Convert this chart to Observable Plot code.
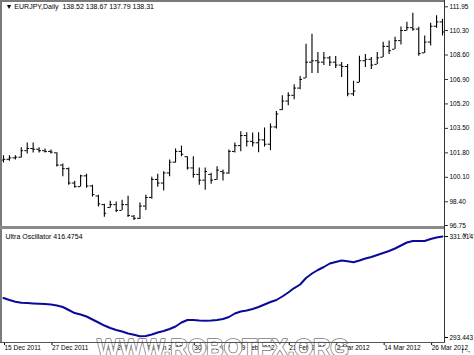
<!DOCTYPE html>
<html><head><meta charset="utf-8">
<script src="https://cdn.jsdelivr.net/npm/d3@7"></script>
<script src="https://cdn.jsdelivr.net/npm/@observablehq/plot@0.6"></script>
<style>
body{margin:0;background:#fff;}
#c{position:relative;width:474px;height:355px;overflow:hidden;font-family:"Liberation Sans",Arial,sans-serif;}
#c svg{position:absolute;left:0;}
.b{position:absolute;}
</style></head><body><div id="c"></div>
<script>
const header = "▼ EURJPY,Daily  138.52 138.67 137.79 138.31";
const oscTitle = "Ultra Oscillator 416.4754";
const watermark = "WWW.ROBOTFX.ORG";
const dateLabels = ["15 Dec 2011","27 Dec 2011","6 Jan 2012","18 Jan 2012","30 Jan 2012","9 Feb 2012","21 Feb 2012","2 Mar 2012","14 Mar 2012","26 Mar 2012"];
const dateIdx = [0,8,16,24,32,40,48,56,64,72];
const priceTicks = [96.75,98.40,100.10,101.80,103.50,105.20,106.90,108.60,110.30,111.95];
const oscTicks = [293.443,331.0147];

const high = [101.60,101.60,101.60,102.16,102.48,102.48,102.16,102.07,102.00,101.81,
101.02,100.74,99.83,100.25,100.32,99.55,98.85,98.22,98.43,98.38,
98.50,98.78,97.45,98.31,98.85,100.11,100.32,100.48,101.30,102.07,
102.27,101.53,101.53,100.74,100.74,100.39,100.83,100.60,102.00,102.48,
103.27,103.20,103.18,103.20,103.53,103.81,104.67,105.77,105.98,106.54,
107.10,109.34,110.04,108.78,108.78,108.50,108.50,108.08,107.94,106.77,
108.52,108.64,108.43,108.78,109.48,109.57,109.83,110.55,110.88,111.51,
110.53,109.92,110.81,111.32,111.09];
const low = [101.09,101.22,101.30,101.44,101.72,101.79,101.79,101.79,101.72,100.81,
100.13,99.55,99.36,99.43,99.34,98.73,98.03,97.33,97.96,97.66,
97.80,97.31,97.10,97.17,97.80,98.57,99.41,99.15,100.13,101.09,
101.53,100.60,100.04,99.55,99.20,99.62,99.90,99.85,100.32,101.79,
101.88,102.20,102.20,101.81,102.20,101.95,103.46,104.74,105.07,105.49,
106.19,106.96,107.31,107.31,107.87,107.80,107.66,107.03,105.70,105.72,
106.68,107.73,107.59,107.94,108.43,108.64,108.99,109.29,110.27,110.25,
108.52,108.71,109.22,110.46,109.92];
const open = [101.30,101.35,101.45,101.50,101.95,102.10,102.05,101.95,101.90,101.80,
100.95,100.70,99.70,99.45,100.20,99.50,98.80,98.20,98.00,98.20,
97.80,98.20,97.40,97.25,98.10,98.70,99.95,99.70,100.40,101.15,
101.90,101.53,100.75,100.30,99.90,100.30,99.95,100.50,100.40,101.90,
102.30,103.00,102.60,102.50,102.70,102.40,103.60,104.80,105.40,105.80,
106.30,107.00,108.10,108.20,108.10,108.40,108.10,107.90,107.80,105.90,
106.70,108.20,108.30,107.95,108.45,109.20,109.00,109.60,110.30,110.50,
110.40,108.75,109.50,110.60,110.90];
const close = [101.35,101.45,101.50,101.95,102.10,102.05,101.95,101.90,101.85,100.95,
100.70,99.70,99.45,100.20,99.50,98.90,98.25,97.60,98.20,97.80,
98.20,97.45,97.25,98.10,98.70,99.95,99.70,100.40,101.15,101.90,
101.70,100.75,100.30,99.90,100.50,99.90,100.60,100.40,101.90,102.30,
103.00,102.60,102.50,102.70,102.40,103.60,104.50,105.40,105.80,106.30,
106.90,108.10,108.20,108.10,108.40,108.10,107.90,107.80,105.90,106.10,
108.20,108.30,107.90,108.40,109.20,108.90,109.60,110.30,110.50,110.40,
108.70,109.50,110.60,110.90,110.20];
const osc = [308.13,307.39,306.72,306.35,306.24,306.09,305.98,305.87,305.72,305.34,
304.79,303.67,302.55,302.00,301.25,300.14,299.02,297.90,296.97,296.23,
295.67,294.93,294.44,293.88,294.00,294.56,295.30,295.86,296.60,297.53,
299.02,299.95,299.95,299.76,299.69,299.76,299.95,300.32,301.07,302.37,
303.11,303.48,304.04,304.79,305.72,306.65,307.39,308.69,310.18,311.85,
313.16,315.58,317.25,318.55,319.67,320.97,321.53,322.09,321.79,321.45,
322.09,322.83,323.39,324.13,324.88,325.62,326.55,327.67,328.78,329.34,
329.34,329.34,330.08,330.64,331.01];

const bars = high.map((h, i) => ({i, h, l: low[i], o: open[i], c: close[i]}));
const oscData = osc.map((v, i) => ({i, v}));
const font = '"Liberation Sans",Arial,sans-serif';
const host = document.getElementById("c");

const pricePlot = Plot.plot({
  width: 474, height: 229, marginLeft: 2, marginRight: 30, marginTop: 2, marginBottom: 3,
  x: {domain: [0, 74], range: [3, 442], axis: null},
  y: {domain: [96.75, 111.95], range: [225, 6.3], axis: null},
  style: {fontFamily: font, fontSize: "6.5px", color: "#000", background: "transparent", overflow: "visible"},
  marks: [
    Plot.ruleX(bars, {x: "i", y1: "l", y2: "h", stroke: "#000", strokeWidth: 1.1}),
    Plot.ruleY(bars, {y: "o", x1: d => d.i - 0.4, x2: "i", stroke: "#000"}),
    Plot.ruleY(bars, {y: "c", x1: "i", x2: d => d.i + 0.4, stroke: "#000"}),
    Plot.axisY(priceTicks, {anchor: "right", tickSize: 3, tickPadding: 2, tickFormat: d => d.toFixed(2), fontSize: 6.5, stroke: "#333"}),
    Plot.text([header], {frameAnchor: "top-left", dx: 3, dy: 2, textAnchor: "start", lineAnchor: "top", fontSize: 7, fill: "#000"})
  ]
});
pricePlot.style.top = "0px";
host.appendChild(pricePlot);

const oscPlot = Plot.plot({
  width: 474, height: 126, marginLeft: 2, marginRight: 30, marginTop: 1, marginBottom: 13,
  x: {domain: [0, 74], range: [3, 442], axis: null},
  y: {domain: [293.443, 331.0147], range: [108, 7], axis: null},
  style: {fontFamily: font, fontSize: "6.5px", color: "#000", background: "transparent", overflow: "visible"},
  marks: [
    Plot.lineY(oscData, {x: "i", y: "v", stroke: "#0a0a9a", strokeWidth: 2}),
    Plot.axisY(oscTicks, {anchor: "right", tickSize: 3, tickPadding: 2, tickFormat: d => String(d), fontSize: 6.5}),
    Plot.axisX(dateIdx, {anchor: "bottom", tickSize: 3, tickPadding: 0, textAnchor: "start", dx: 1, tickFormat: d => dateLabels[dateIdx.indexOf(d)], fontSize: 6.5}),
    Plot.text([oscTitle], {frameAnchor: "top-left", dx: 3, dy: 4, textAnchor: "start", lineAnchor: "top", fontSize: 7, fill: "#000"}),
    Plot.text([watermark], {frameAnchor: "bottom", x: 37, dy: 13, textAnchor: "middle", lineAnchor: "bottom", fontSize: 24, fontWeight: "bold", fill: "#fff", stroke: "#777", strokeWidth: 1.5})
  ]
});
oscPlot.style.top = "229px";
host.appendChild(oscPlot);

function line(l, t, w, h, col) {
  const d = document.createElement("div");
  d.className = "b";
  Object.assign(d.style, {left: l + "px", top: t + "px", width: w + "px", height: h + "px", background: col});
  host.appendChild(d);
}
line(0, 0, 2, 343, "#7a7a7a");
line(0, 0, 445, 2, "#7a7a7a");
line(0, 226, 445, 3, "#8a8a8a");
line(444, 0, 1, 343, "#333");
line(0, 342, 445, 1, "#555");
</script></body></html>
